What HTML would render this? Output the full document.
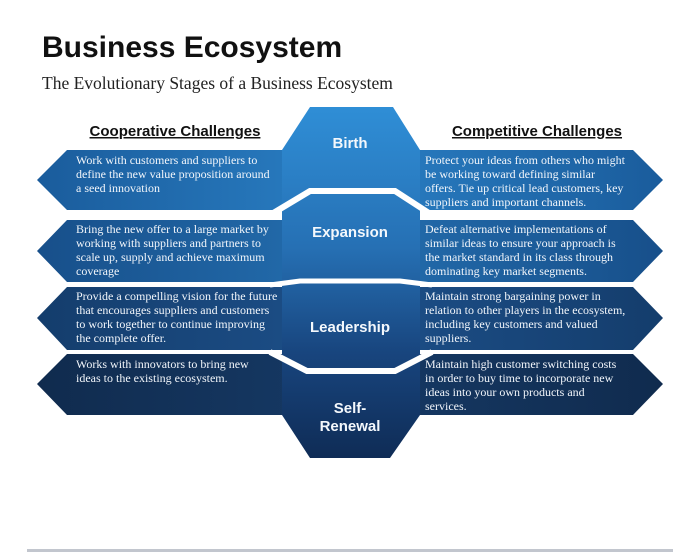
<!DOCTYPE html>
<html><head><meta charset="utf-8"><style>
body{margin:0;background:#fff;width:700px;height:558px;overflow:hidden}
svg{display:block}
.t{font-family:"Liberation Serif",serif;font-size:12px;fill:#f2f6fb}
.c{font-family:"Liberation Sans",sans-serif;font-weight:bold;font-size:15px;fill:#f4f8fc;text-anchor:middle}
</style></head><body>
<svg width="700" height="558" viewBox="0 0 700 558">
<defs>
<linearGradient id="r1" x1="0" x2="1"><stop offset="0" stop-color="#1a5c9c"/><stop offset="0.5" stop-color="#2a7fc4"/><stop offset="1" stop-color="#1a5c9c"/></linearGradient>
<linearGradient id="r2" x1="0" x2="1"><stop offset="0" stop-color="#174f8a"/><stop offset="0.5" stop-color="#246fb0"/><stop offset="1" stop-color="#174f8a"/></linearGradient>
<linearGradient id="r3" x1="0" x2="1"><stop offset="0" stop-color="#143d6c"/><stop offset="0.5" stop-color="#1d508a"/><stop offset="1" stop-color="#143d6c"/></linearGradient>
<linearGradient id="r4" x1="0" x2="1"><stop offset="0" stop-color="#102b4e"/><stop offset="0.5" stop-color="#163a66"/><stop offset="1" stop-color="#102b4e"/></linearGradient>
<linearGradient id="cg" x1="0" y1="0" x2="0" y2="1"><stop offset="0" stop-color="#2f8ed6"/><stop offset="0.4" stop-color="#2670b4"/><stop offset="0.7" stop-color="#18457e"/><stop offset="1" stop-color="#0f2c56"/></linearGradient>
</defs>
<text x="42" y="57" font-family="Liberation Sans,sans-serif" font-weight="bold" font-size="30" fill="#111">Business Ecosystem</text>
<text x="42" y="89" font-family="Liberation Serif,serif" font-size="17.5" fill="#222">The Evolutionary Stages of a Business Ecosystem</text>
<text x="175" y="136" font-family="Liberation Sans,sans-serif" font-weight="bold" font-size="15" fill="#111" text-anchor="middle" text-decoration="underline">Cooperative Challenges</text>
<text x="537" y="136" font-family="Liberation Sans,sans-serif" font-weight="bold" font-size="15" fill="#111" text-anchor="middle" text-decoration="underline">Competitive Challenges</text>

<polygon points="37,180 67,150 633,150 663,180 633,210 67,210" fill="url(#r1)"/>
<polygon points="37,251 67,220 633,220 663,251 633,282 67,282" fill="url(#r2)"/>
<polygon points="37,318 67,287 633,287 663,318 633,350 67,350" fill="url(#r3)"/>
<polygon points="37,384 67,354 633,354 663,384 633,415 67,415" fill="url(#r4)"/>

<polygon points="310,107 393,107 420,150 420,415 390,458 310,458 282,415 282,150" fill="url(#cg)"/>
<polyline points="270,215 310,191 395,191 432,215" fill="none" stroke="#fff" stroke-width="6"/>
<polyline points="270,285 300,281 400,281 432,285" fill="none" stroke="#fff" stroke-width="5"/>
<polyline points="270,352 307,371 395,371 432,352" fill="none" stroke="#fff" stroke-width="6"/>

<text class="c" x="350" y="148">Birth</text>
<text class="c" x="350" y="237">Expansion</text>
<text class="c" x="350" y="332">Leadership</text>
<text class="c" x="350" y="413">Self-</text>
<text class="c" x="350" y="431">Renewal</text>

<g class="t">
<text x="76" y="164">Work with customers and suppliers to</text>
<text x="76" y="178">define the new value proposition around</text>
<text x="76" y="192">a seed innovation</text>
<text x="76" y="233">Bring the new offer to a large market by</text>
<text x="76" y="247">working with suppliers and partners to</text>
<text x="76" y="261">scale up, supply and achieve maximum</text>
<text x="76" y="275">coverage</text>
<text x="76" y="300">Provide a compelling vision for the future</text>
<text x="76" y="314">that encourages suppliers and customers</text>
<text x="76" y="328">to work together to continue improving</text>
<text x="76" y="342">the complete offer.</text>
<text x="76" y="368">Works with innovators to bring new</text>
<text x="76" y="382">ideas to the existing ecosystem.</text>

<text x="425" y="164">Protect your ideas from others who might</text>
<text x="425" y="178">be working toward defining similar</text>
<text x="425" y="192">offers. Tie up critical lead customers, key</text>
<text x="425" y="206">suppliers and important channels.</text>
<text x="425" y="233">Defeat alternative implementations of</text>
<text x="425" y="247">similar ideas to ensure your approach is</text>
<text x="425" y="261">the market standard in its class through</text>
<text x="425" y="275">dominating key market segments.</text>
<text x="425" y="300">Maintain strong bargaining power in</text>
<text x="425" y="314">relation to other players in the ecosystem,</text>
<text x="425" y="328">including key customers and valued</text>
<text x="425" y="342">suppliers.</text>
<text x="425" y="368">Maintain high customer switching costs</text>
<text x="425" y="382">in order to buy time to incorporate new</text>
<text x="425" y="396">ideas into your own products and</text>
<text x="425" y="410">services.</text>
</g>
<rect x="27" y="549" width="646" height="3" fill="#c2c6ce"/>
</svg>
</body></html>
